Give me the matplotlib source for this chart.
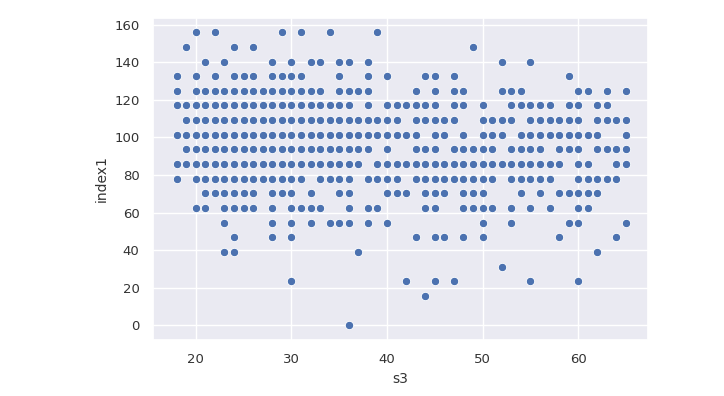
import numpy as np
import pandas as pd
import seaborn as sns
import matplotlib.pyplot as plt

# index1 levels and the s3 values found at each level
y_levels = [156.0, 148.2, 140.4, 132.6, 124.8, 117.0, 109.2, 101.4, 93.6, 85.8,
            78.0, 70.2, 62.4, 54.6, 46.8, 39.0, 31.2, 23.4, 15.6, 0.0]

x_156 = [20, 22, 29, 31, 34, 39]
x_148 = [19, 24, 26, 49]
x_140 = [21, 23, 28, 30, 32, 33, 35, 36, 38, 52, 55]
x_133 = [18, 20, 22, 24, 25, 26, 28, 29, 30, 31, 35, 38, 40, 44, 45, 47, 59]
x_125 = [18, 20, 21, 22, 23, 24, 25, 26, 27, 28, 29, 30, 31, 32, 33, 35, 36, 37, 38,
         43, 45, 47, 48, 52, 53, 54, 60, 61, 63, 65]
x_117 = [18, 19, 20, 21, 22, 23, 24, 25, 26, 27, 28, 29, 30, 31, 32, 33, 34, 35, 36,
         38, 40, 41, 42, 43, 44, 45, 47, 48, 50, 53, 54, 55, 56, 57, 59, 60, 62, 63]
x_109 = [19, 20, 21, 22, 23, 24, 25, 26, 27, 28, 29, 30, 31, 32, 33, 34, 35, 36, 37,
         38, 39, 40, 41, 43, 44, 45, 46, 47, 50, 51, 52, 53, 55, 56, 57, 58, 59, 60,
         62, 63, 64, 65]
x_101 = [18, 19, 20, 21, 22, 23, 24, 25, 26, 27, 28, 29, 30, 31, 32, 33, 34, 35, 36,
         37, 38, 39, 40, 41, 42, 43, 45, 46, 48, 50, 51, 52, 54, 55, 56, 57, 58, 59,
         60, 61, 62, 65]
x_94 = [19, 20, 21, 22, 23, 24, 25, 26, 27, 28, 29, 30, 31, 32, 33, 34, 35, 36, 37,
        38, 40, 43, 44, 45, 47, 48, 49, 50, 51, 53, 54, 55, 56, 58, 59, 60, 62, 63,
        64, 65]
x_86 = [18, 19, 20, 21, 22, 23, 24, 25, 26, 27, 28, 29, 30, 31, 32, 33, 34, 35, 36,
        37, 39, 40, 41, 42, 43, 44, 45, 46, 47, 48, 49, 50, 51, 52, 53, 54, 55, 56,
        57, 58, 60, 61, 64, 65]
x_78 = [18, 20, 21, 22, 23, 24, 25, 26, 27, 28, 29, 30, 31, 33, 34, 35, 36, 38, 39,
        40, 41, 43, 44, 45, 46, 47, 48, 49, 50, 51, 53, 54, 55, 56, 57, 60, 61, 62,
        63, 64]
x_70 = [21, 22, 23, 24, 25, 26, 28, 29, 30, 32, 35, 36, 40, 41, 42, 44, 45, 46, 48,
        49, 50, 54, 56, 58, 59, 60, 61, 62]
x_62 = [20, 21, 23, 24, 25, 26, 28, 30, 31, 32, 33, 36, 38, 39, 44, 45, 48, 49, 50,
        51, 53, 55, 57, 60, 61]
x_55 = [23, 28, 30, 32, 34, 35, 36, 38, 40, 50, 53, 59, 60, 65]
x_47 = [24, 28, 30, 43, 45, 46, 48, 50, 58, 64]
x_39 = [23, 24, 37, 62]
x_31 = [52]
x_23 = [30, 42, 45, 47, 55, 60]
x_16 = [44]
x_0 = [36]

x_by_level = [x_156, x_148, x_140, x_133, x_125, x_117, x_109, x_101, x_94, x_86,
              x_78, x_70, x_62, x_55, x_47, x_39, x_31, x_23, x_16, x_0]

rows = []
for yv, xs in zip(y_levels, x_by_level):
    for xv in xs:
        rows.append((xv, yv))
df = pd.DataFrame(rows, columns=['s3', 'index1'])

sns.set_theme()
plt.rcParams['font.family'] = ['DejaVu Sans']

fig = plt.figure(figsize=(7.24, 3.96), dpi=100)
ax = fig.add_axes([0.211, 0.141, 0.684, 0.814])
sns.scatterplot(data=df, x='s3', y='index1', ax=ax, s=36, color='#4c72b0',
                edgecolor='white', linewidth=0.6)

ax.set_xlim(15.5, 67.3)
ax.set_ylim(-8, 163.7)
ax.set_xticks([20, 30, 40, 50, 60])
ax.set_yticks([0, 20, 40, 60, 80, 100, 120, 140, 160])
ax.tick_params(labelsize=9.5, colors='#333333')
ax.set_xlabel('s3', fontsize=10, color='#333333')
ax.set_ylabel('index1', fontsize=10, color='#333333')

fig.savefig('out.png', dpi=100)
